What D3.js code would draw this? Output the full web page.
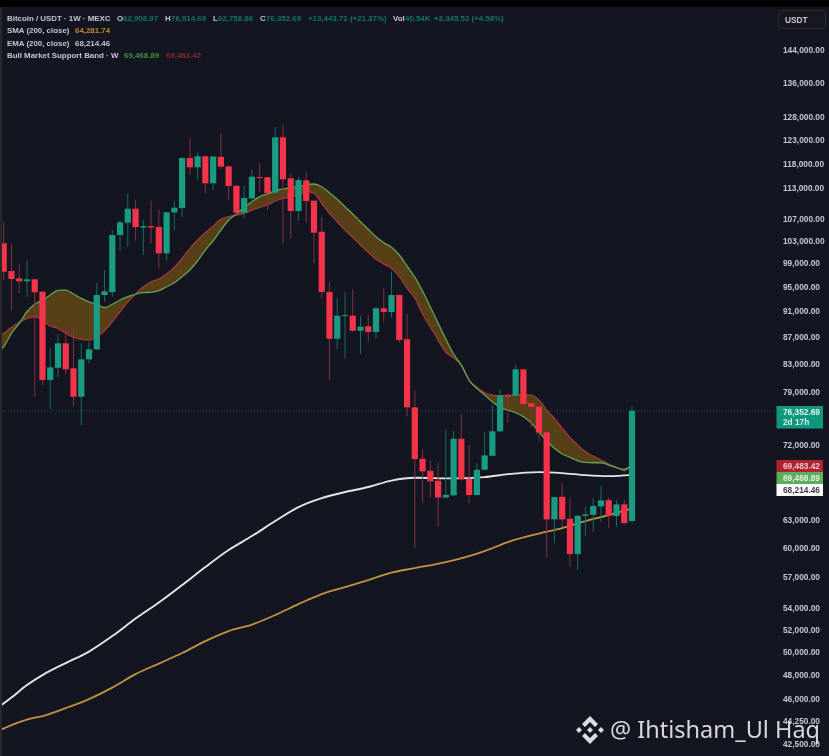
<!DOCTYPE html>
<html>
<head>
<meta charset="utf-8">
<script src="https://cdn.jsdelivr.net/npm/d3@7/dist/d3.min.js"></script>
<style>
	html, body { margin: 0; padding: 0; background: #000; }
	svg { display: block; filter: blur(0.4px); }
	text { font-family: "Liberation Sans", Arial, sans-serif; }
	.tick text { font-size: 8.3px; font-weight: bold; fill: #c4c7cf; }
	.legend { font-size: 7.9px; font-weight: bold; fill: #c4c7cf; }
	.tag { font-size: 8.3px; font-weight: bold; }
</style>
</head>
<body>
<div id="chart"></div>
<script>
//weekly candles
let opens = [102500,97630,96385,95875,96215,94140,80598,82360,85975,82275,78270,83585,85070,93595,94090,104010,106285,108930,105400,105650,105510,100710,108240,109050,119090,117160,119460,113910,119330,117370,113430,108170,110940,115180,115120,112040,123500,114920,108490,114510,110480,104610,94090,86670,90250,90250,87900,88580,87700,91430,90840,93595,86580,76820,70180,68715,67515,65565,65800,72690,67755,65845,68835,70550,73645,78460,78400,82130,77365,76900,73515,63085,65640,63155,59350,63480,63600,64545,65263,63460,64770,62908.97];
let highs = [106470,102380,98840,99360,96265,94255,85265,87390,88475,88320,86020,86215,95590,97800,104927,106789,111920,110612,106789,110480,108820,108360,110420,119240,123280,120290,119460,119460,124380,117430,113430,113370,116604,117990,115180,125700,126200,115920,115240,116250,110480,107420,95810,93050,94040,94535,90250,90360,91690,94700,97510,93595,90520,79193,71262,69930,69810,73900,73680,75880,71890,69615,73590,77130,79290,78775,82750,82130,77365,76900,73515,65610,67205,65460,63560,64495,65460,66890,65570,65263,65263,76914.69];
let lows = [96095,91156,93925,93265,78270,79890,76590,81025,81450,76995,74465,83045,84964,92500,93310,101125,101880,102970,100415,102500,98090,99410,104927,107300,115590,114571,111920,112574,116750,110612,107730,107110,110750,112240,108683,111790,102500,103400,106660,106285,98960,93050,80500,85070,83730,87700,84370,86220,86730,89140,89990,86070,75560,59950,64950,65525,62350,65450,65800,67515,64890,65760,68799,70510,73590,74770,78360,77130,74160,72310,59005,60545,62270,58040,57704,61260,61725,62820,62100,62270,62460,62758.86];
let closes = [97510,96265,95875,96215,94040,80598,82420,85975,82130,78270,83585,85070,93595,94205,104010,106360,108930,105470,105650,105400,100710,108240,109130,119090,117160,119460,113910,119400,117290,113370,108170,111000,115240,115080,111920,123500,114710,108490,114571,110420,104430,94090,86670,90250,90360,87900,88520,87700,91430,90840,93595,86472,76820,70145,68640,67445,65565,65870,72690,67685,65845,68835,70600,73645,78460,78360,82130,77270,76900,73475,63085,65610,63085,59350,63480,63645,64580,65225,63460,64770,62680,76352.69];

//Bull Market Support Band, first value is the week before the first candle
let bandGreen = [84670,85460,87500,89050,90880,92090,92774,93595,94370,94420,93760,93050,92450,92090,91530,92090,92774,93315,93760,93975,94040,94305,94970,95640,96660,97800,99410,101301,102970,104927,106789,107925,109200,110285,111270,111790,112435,112770,112970,113230,113630,113770,113230,112040,110750,109320,107925,106470,105055,103700,102610,101780,100415,98490,96600,94255,91640,89100,86620,84370,82750,80598,79430,78500,77580,76820,76456,76095,75560,74770,73590,72435,71475,70765,70355,69930,69735,69690,69690,69410,69080,68885,69468.89];
let bandRed = [86930,87500,88425,89210,89830,90090,89567,88630,88270,87500,86885,86580,86472,86980,87900,89300,90880,92500,93760,94970,95810,96265,97110,98270,99830,101600,103098,104430,105650,106920,107420,107730,108055,108683,109200,109650,110420,110940,111140,111590,112240,111920,109975,108055,106470,104927,103590,102200,100900,99655,98840,98090,96660,94750,93100,90520,88475,86472,84670,83780,82750,80530,79570,78820,78500,78400,78460,78500,78540,78500,77812,76456,75350,74035,72870,71890,71050,70510,70020,69535,69130,68715,69483.42];

//EMA and SMA, read every few weeks
let emaWeeks = [-1,1,3,5,8,11,14,17,20,23,26,29,32,35,38,41,44,47,50,53,58,62,65,69,72,75,78,81];
let emaValues = [45190,46115,47140,47975,49000,50000,51380,52985,54500,56200,58010,59770,61260,62900,64465,65495,66190,66775,67540,67870,67800,67950,68310,68555,68435,68190,68070,68214.46];
let smaWeeks = [-1,1,3,5,8,11,14,17,20,23,26,29,32,35,38,41,44,47,50,53,57,62,65,69,72,75,78,81];
let smaValues = [43400,43940,44365,44640,45270,45995,46930,48060,48955,49870,50930,51835,52430,53315,54355,55320,56000,56698,57450,57905,58520,59665,60620,61530,62130,62900,63565,64281.74];

let priceTicks = [144000,136000,128000,123000,118000,113000,107000,103000,99000,95000,91000,87000,83000,79000,72000,63000,60000,57000,54000,52000,50000,48000,46000,44250,42500];

let lastPrice = 76352.69;

let legendRows = [
	[["Bitcoin / USDT · 1W · MEXC", "#c4c7cf", 7], ["O", "#c4c7cf", 117], ["62,908.97", "#11766a", 123], ["H", "#c4c7cf", 165], ["76,914.69", "#11766a", 171], ["L", "#c4c7cf", 213], ["62,758.86", "#11766a", 218], ["C", "#c4c7cf", 260], ["76,352.69", "#11766a", 266], ["+13,443.71 (+21.37%)", "#11766a", 308], ["Vol", "#c4c7cf", 393], ["40.54K", "#11766a", 405], ["+3,345.52 (+4.58%)", "#11766a", 434]],
	[["SMA (200, close)", "#c4c7cf", 7], ["64,281.74", "#c48d2c", 75]],
	[["EMA (200, close)", "#c4c7cf", 7], ["68,214.46", "#c4c7cf", 75]],
	[["Bull Market Support Band · W", "#c4c7cf", 7], ["69,468.89", "#3f8f3f", 124], ["69,483.42", "#8f2530", 166]]
];

let tags = [
	{ text: "69,483.42", fill: "#b0222f", color: "#eec6c9", top: 460 },
	{ text: "69,468.89", fill: "#5cae5a", color: "#dff0de", top: 472 },
	{ text: "68,214.46", fill: "#ffffff", color: "#3a3d48", top: 484 }
];

let drawChart = function (parent) {
	let width = 829, height = 756;
	let plotRight = 775;

	let svg = d3.select(parent).append("svg")
		.attr("width", width)
		.attr("height", height)
		.attr("viewBox", `0 0 ${width} ${height}`);

	//background, black strip on top and grey strip on the left
	svg.append("rect").attr("width", width).attr("height", height).attr("fill", "#000");
	svg.append("rect").attr("x", 0).attr("y", 7).attr("width", width).attr("height", height - 7).attr("fill", "#131620");
	svg.append("rect").attr("x", 0).attr("y", 7).attr("width", 2).attr("height", height - 7).attr("fill", "#26282c");

	let x = d3.scaleLinear().domain([0, 81]).range([3.7, 632]);
	let y = d3.scaleLog().domain([144000, 42500]).range([50, 744]);

	svg.append("clipPath").attr("id", "plot-clip")
		.append("rect").attr("x", 2).attr("y", 7).attr("width", plotRight - 2).attr("height", height - 7);

	//price axis
	let axis = svg.append("g")
		.attr("transform", "translate(783, 0)")
		.call(d3.axisRight(y).tickValues(priceTicks).tickFormat(d3.format(",.2f")).tickSize(0).tickPadding(0));
	axis.select(".domain").remove();
	axis.selectAll("text").attr("dy", "0.34em");

	let plot = svg.append("g").attr("clip-path", "url(#plot-clip)");

	//dotted line at the last price
	plot.append("line")
		.attr("x1", 2).attr("x2", plotRight)
		.attr("y1", y(lastPrice)).attr("y2", y(lastPrice))
		.attr("stroke", "#0f5a50")
		.attr("stroke-dasharray", "1 2");

	//band first, so the candles sit over it
	let bandX = (d, i) => x(i - 1);
	let area = d3.area()
		.x(bandX)
		.y0((d, i) => y(bandGreen[i]))
		.y1((d, i) => y(bandRed[i]))
		.curve(d3.curveMonotoneX);
	plot.append("path").attr("d", area(bandGreen)).attr("fill", "#573f18");

	let bandLine = d3.line().x(bandX).y(d => y(d)).curve(d3.curveMonotoneX);
	plot.append("path").attr("d", bandLine(bandRed))
		.attr("fill", "none").attr("stroke", "#a5373b").attr("stroke-width", 1.3);
	plot.append("path").attr("d", bandLine(bandGreen))
		.attr("fill", "none").attr("stroke", "#62a550").attr("stroke-width", 1.3);

	let maLine = weeks => d3.line().x((d, i) => x(weeks[i])).y(d => y(d)).curve(d3.curveMonotoneX);
	plot.append("path").attr("d", maLine(smaWeeks)(smaValues))
		.attr("fill", "none").attr("stroke", "#c1933f").attr("stroke-width", 1.8);
	plot.append("path").attr("d", maLine(emaWeeks)(emaValues))
		.attr("fill", "none").attr("stroke", "#e4e5e8").attr("stroke-width", 1.9);

	//candles
	let bodyWidth = 6.2;
	let candles = plot.selectAll(".candle")
		.data(opens.map((o, i) => ({ i: i, o: o, h: highs[i], l: lows[i], c: closes[i] })))
		.enter()
		.append("g")
		.attr("class", "candle");
	candles.append("line")
		.attr("x1", d => x(d.i)).attr("x2", d => x(d.i))
		.attr("y1", d => y(d.h)).attr("y2", d => y(d.l))
		.attr("stroke", d => d.c >= d.o ? "#1b6a60" : "#84303f")
		.attr("stroke-width", 1);
	candles.append("rect")
		.attr("x", d => x(d.i) - bodyWidth / 2)
		.attr("width", bodyWidth)
		.attr("y", d => y(Math.max(d.o, d.c)))
		.attr("height", d => Math.max(1, y(Math.min(d.o, d.c)) - y(Math.max(d.o, d.c))))
		.attr("fill", d => d.c >= d.o ? "#1a9c84" : "#f5344b");

	//legend top left
	legendRows.forEach((row, r) => {
		row.forEach(part => {
			svg.append("text")
				.attr("class", "legend")
				.attr("x", part[2])
				.attr("y", 21 + r * 12.4)
				.style("fill", part[1])
				.text(part[0]);
		});
	});

	//USDT box
	svg.append("rect")
		.attr("x", 778.5).attr("y", 10.5).attr("width", 47).attr("height", 18).attr("rx", 3)
		.attr("fill", "#16181d").attr("stroke", "#2a2c33");
	svg.append("text").attr("class", "tag").style("fill", "#c4c7cf").attr("x", 785).attr("y", 22.5).text("USDT");

	//price tags on the axis
	let lastTag = svg.append("g");
	lastTag.append("rect").attr("x", 776.5).attr("y", 406).attr("width", 46.5).attr("height", 22.5).attr("fill", "#10987f");
	lastTag.append("text").attr("class", "tag").style("fill", "#dff3ee").attr("x", 783).attr("y", 414.5).text(d3.format(",.2f")(lastPrice));
	lastTag.append("text").attr("class", "tag").style("fill", "#cfeee7").attr("x", 783).attr("y", 425).text("2d 17h");

	tags.forEach(t => {
		svg.append("rect").attr("x", 776.5).attr("y", t.top).attr("width", 46.5).attr("height", 12).attr("fill", t.fill);
		svg.append("text").attr("class", "tag").style("fill", t.color).attr("x", 783).attr("y", t.top + 9).text(t.text);
	});

	//watermark, logo is the four corner arrows and the small squares
	let logo = svg.append("g").attr("transform", "translate(590, 730)").attr("fill", "#dcdcdc");
	logo.append("path").attr("d", "M0,-14 L8,-6 L5,-3 L0,-8 L-5,-3 L-8,-6 Z");
	logo.append("path").attr("d", "M0,14 L8,6 L5,3 L0,8 L-5,3 L-8,6 Z");
	logo.append("path").attr("d", "M-14,0 L-11,-3 L-8,0 L-11,3 Z");
	logo.append("path").attr("d", "M14,0 L11,-3 L8,0 L11,3 Z");
	logo.append("path").attr("d", "M0,-3 L3,0 L0,3 L-3,0 Z");

	svg.append("text")
		.attr("x", 610)
		.attr("y", 738)
		.attr("fill", "#d8d8da")
		.style("font-family", '"Noto Sans", sans-serif')
		.style("font-size", "23.5px")
		.text("@ Ihtisham_Ul Haq");

	return svg.node();
};

drawChart(d3.select("#chart").node());
</script>
</body>
</html>
